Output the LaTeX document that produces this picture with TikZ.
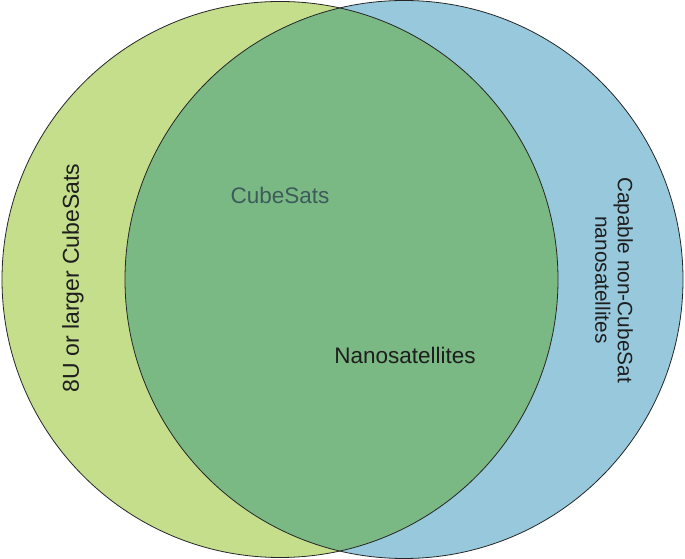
\documentclass[tikz,border=0pt]{standalone}
\usepackage{fontspec}
\setmainfont{Liberation Sans}
\definecolor{leftc}{HTML}{C5DE8C}
\definecolor{rightc}{HTML}{97C8DC}
\definecolor{midc}{HTML}{7AB983}
\definecolor{cubec}{HTML}{3E5B5C}
\definecolor{textc}{HTML}{1E1E1E}
\begin{document}
\begin{tikzpicture}[x=1pt,y=1pt,
  lbl/.style={inner sep=0pt, align=center, text=textc, font=\fontsize{22.5}{27}\selectfont},
  outline/.style={draw=black!85, line width=0.8pt}]
\useasboundingbox (0,0) rectangle (685,559);
\coordinate (cl) at (280,279.5);
\coordinate (cr) at (404,279.5);
\fill[leftc] (cl) circle (278);
\fill[rightc] (cr) circle (279);
\begin{scope}
  \clip (cl) circle (278);
  \fill[midc] (cr) circle (279);
\end{scope}
\draw[outline] (cl) circle (278);
\draw[outline] (cr) circle (279);
\node[lbl, text=cubec] (cubesats) at (280,364) {CubeSats};
\node[lbl] (nano) at (405,204) {Nanosatellites};
\node[lbl, rotate=90, font=\fontsize{23}{27}\selectfont] (large) at (73,281) {8U or larger CubeSats};
\node[lbl, rotate=-90, font=\fontsize{20.8}{22.5}\selectfont] (capable) at (614,279) {Capable non-CubeSat\\nanosatellites};
\end{tikzpicture}
\end{document}
